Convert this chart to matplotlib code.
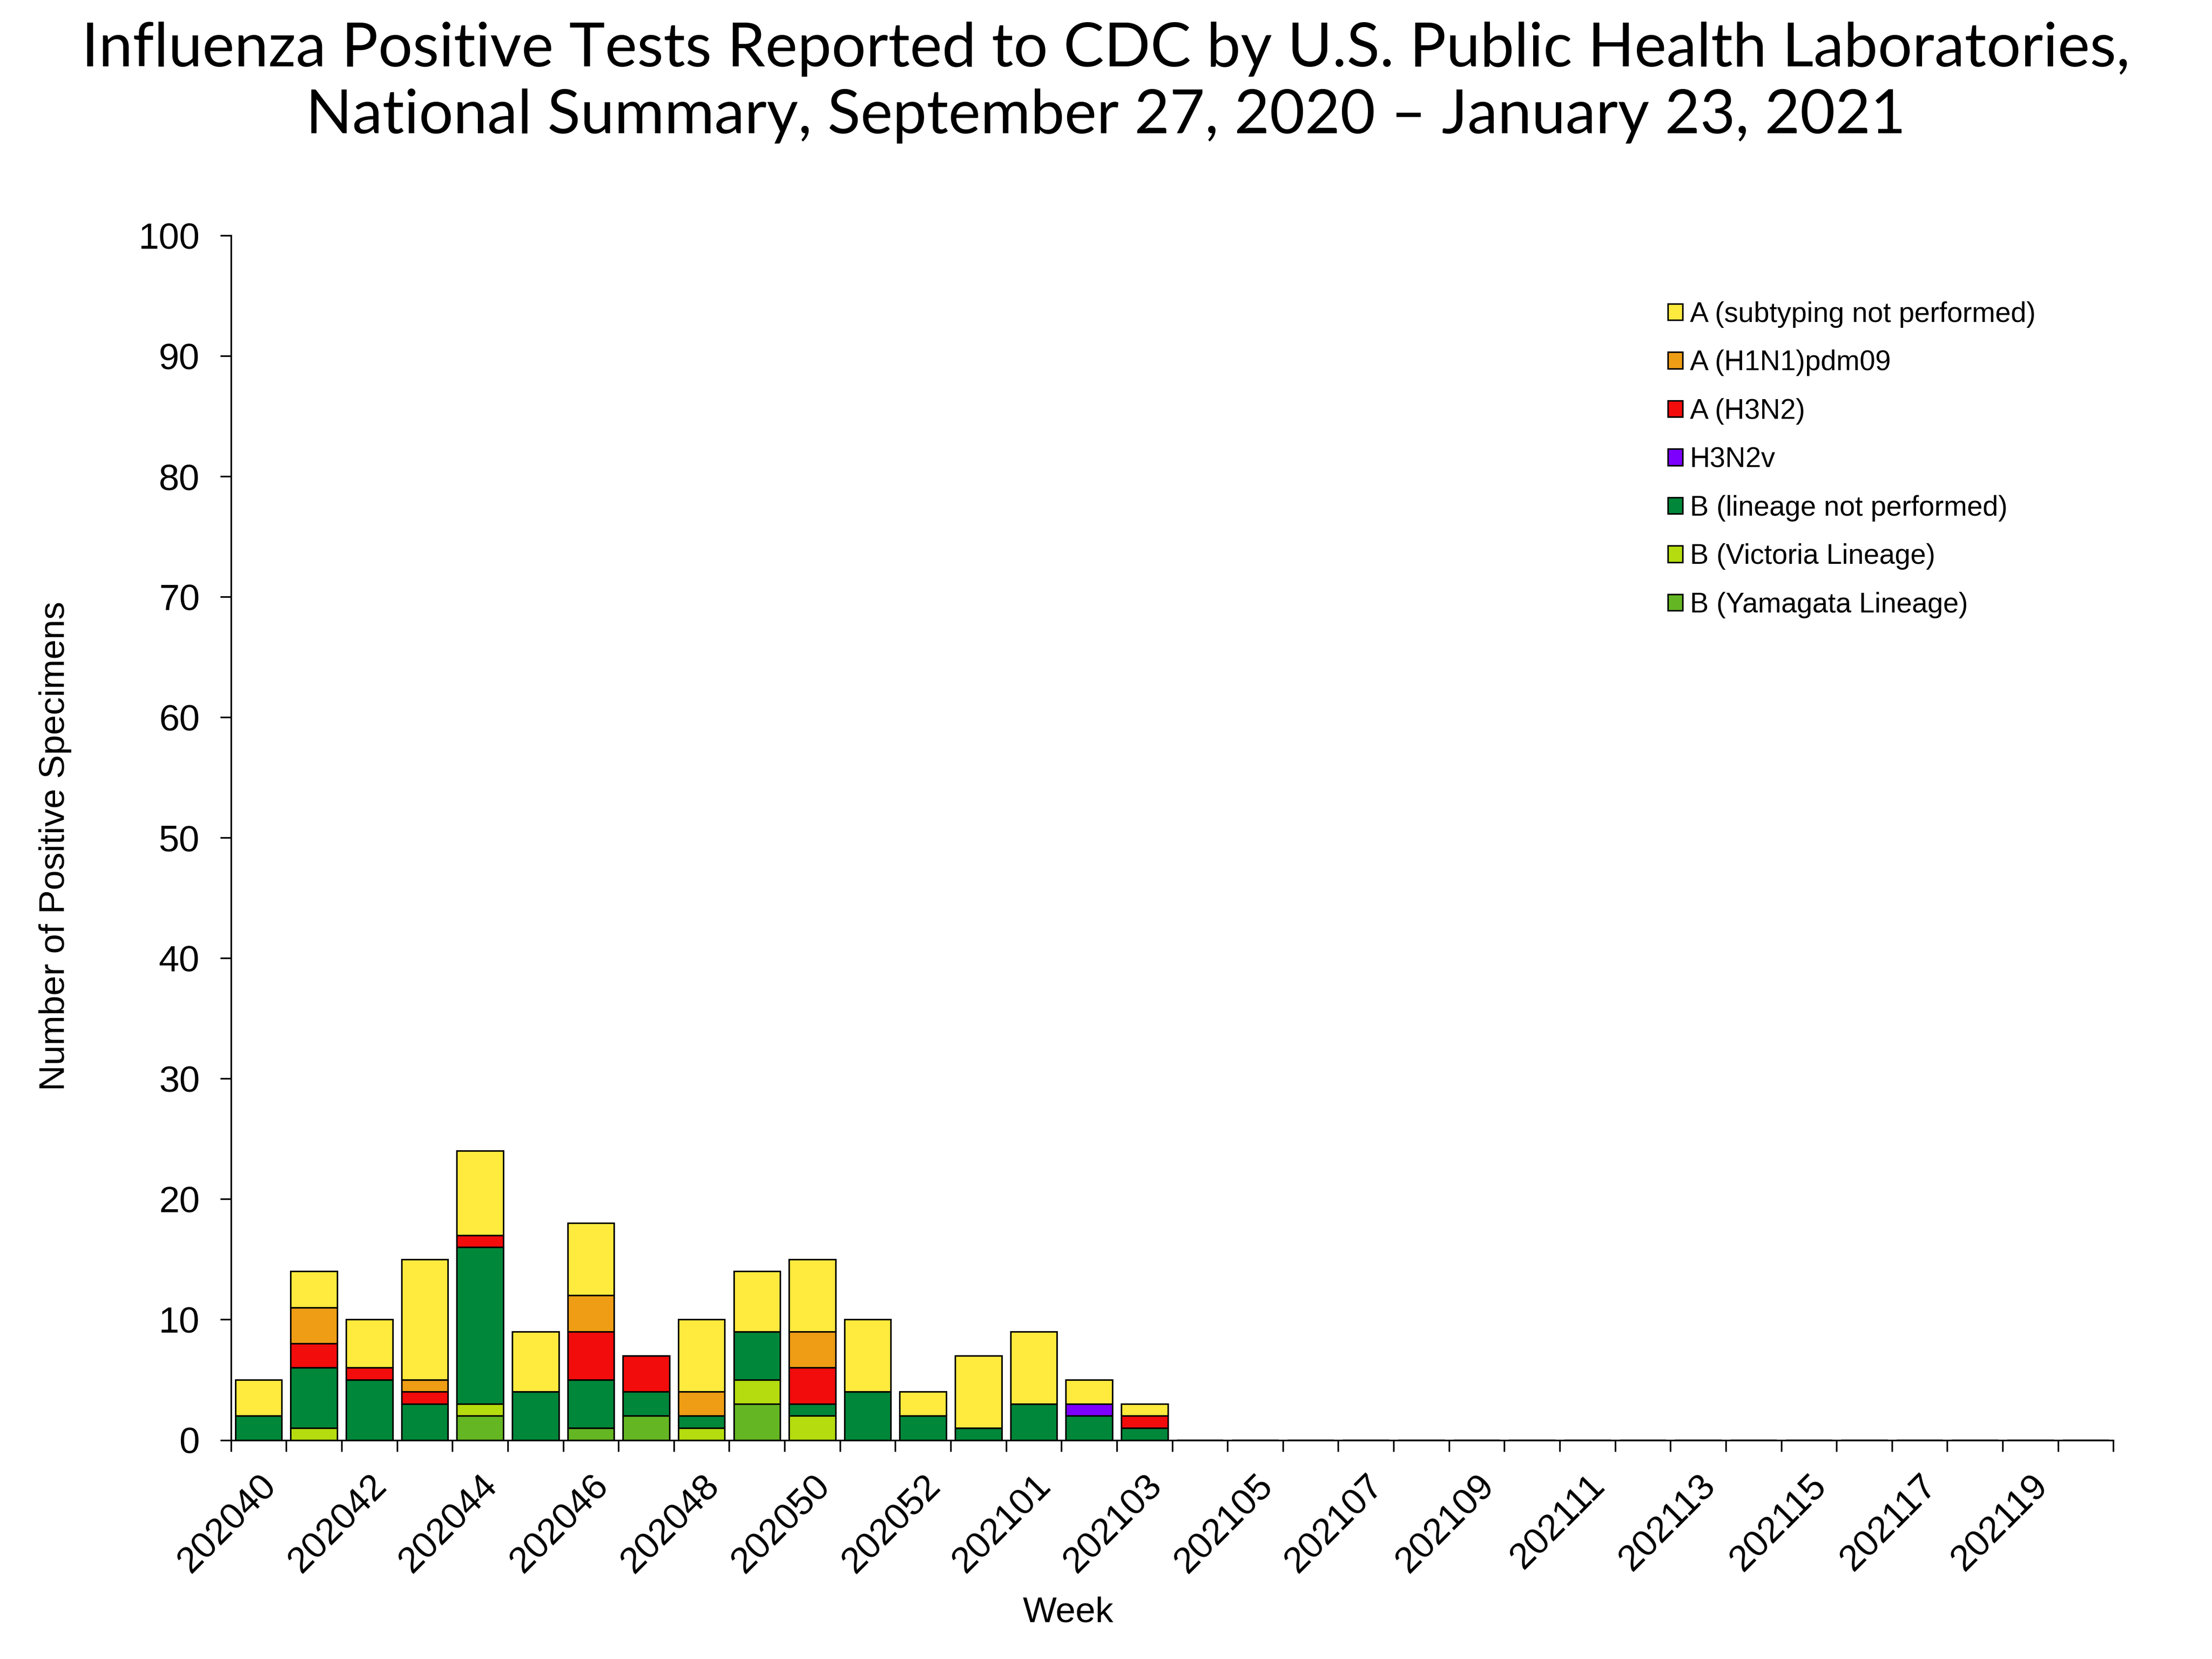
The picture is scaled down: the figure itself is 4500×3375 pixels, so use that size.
import numpy as np
import matplotlib
matplotlib.use('Agg')
import matplotlib.pyplot as plt
from matplotlib.patches import Patch

# weeks 202040..202053, 202101..202120
weeks = [f'2020{w}' for w in range(40, 54)] + [f'2021{w:02d}' for w in range(1, 21)]

pad = [0] * 17
yamagata = [0, 0, 0, 0, 2, 0, 1, 2, 0, 3, 0, 0, 0, 0, 0, 0, 0] + pad
victoria = [0, 1, 0, 0, 1, 0, 0, 0, 1, 2, 2, 0, 0, 0, 0, 0, 0] + pad
b_no_lineage = [2, 5, 5, 3, 13, 4, 4, 2, 1, 4, 1, 4, 2, 1, 3, 2, 1] + pad
h3n2v = [0, 0, 0, 0, 0, 0, 0, 0, 0, 0, 0, 0, 0, 0, 0, 1, 0] + pad
h3n2 = [0, 2, 1, 1, 1, 0, 4, 3, 0, 0, 3, 0, 0, 0, 0, 0, 1] + pad
h1n1 = [0, 3, 0, 1, 0, 0, 3, 0, 2, 0, 3, 0, 0, 0, 0, 0, 0] + pad
a_no_subtype = [3, 3, 4, 10, 7, 5, 6, 0, 6, 5, 6, 6, 2, 6, 6, 2, 1] + pad

series = [
    ('B (Yamagata Lineage)', yamagata, '#64B623'),
    ('B (Victoria Lineage)', victoria, '#B4DC0F'),
    ('B (lineage not performed)', b_no_lineage, '#00873A'),
    ('H3N2v', h3n2v, '#7D00FF'),
    ('A (H3N2)', h3n2, '#F20C0C'),
    ('A (H1N1)pdm09', h1n1, '#EE9D14'),
    ('A (subtyping not performed)', a_no_subtype, '#FFEA3E'),
]


def main():
    plt.rcParams['font.family'] = ['Liberation Sans', 'DejaVu Sans']
    fig = plt.figure(figsize=(15, 11.25), dpi=300)
    ax = fig.add_axes([0.1044, 0.132, 0.851, 0.726])

    x = np.arange(len(weeks))
    bottom = np.zeros(len(weeks))
    handles = []
    for label, vals, color in series:
        vals = np.array(vals, dtype=float)
        ax.bar(x, vals, width=0.84, bottom=bottom, color=color,
               edgecolor='black', linewidth=0.75)
        bottom += vals
        handles.append(Patch(facecolor=color, edgecolor='black', linewidth=0.75, label=label))

    ax.set_xlim(-0.5, len(weeks) - 0.5)
    ax.set_ylim(0, 100)
    ax.set_yticks(range(0, 101, 10))
    ax.tick_params(axis='y', labelsize=18, length=5.3, width=0.8, direction='out', pad=10)

    # labels on every other week, tick marks at category boundaries
    ax.set_xticks(x[::2])
    ax.set_xticklabels(weeks[::2], rotation=45, ha='right', rotation_mode='anchor')
    ax.tick_params(axis='x', which='major', length=0, labelsize=18, pad=14)
    ax.set_xticks(np.arange(-0.5, len(weeks)), minor=True)
    ax.tick_params(axis='x', which='minor', length=5.5, width=0.8, direction='out')

    for s in ['top', 'right']:
        ax.spines[s].set_visible(False)
    for s in ['left', 'bottom']:
        ax.spines[s].set_linewidth(0.8)

    fig.text(0.025, 0.49, 'Number of Positive Specimens', fontsize=17.5,
             rotation=90, ha='center', va='center')
    fig.text(0.483, 0.028, 'Week', fontsize=17.5, ha='center', va='center')

    fig.suptitle('Influenza Positive Tests Reported to CDC by U.S. Public Health Laboratories,\n'
                 'National Summary, September 27, 2020 \u2013 January 23, 2021',
                 fontsize=29.7, family=['Lato', 'DejaVu Sans'], y=0.987, va='top',
                 linespacing=1.26)

    fig.legend(handles=handles[::-1], loc='upper left', bbox_to_anchor=(0.754, 0.8185),
               frameon=False, fontsize=13.7, handlelength=0.53, handleheight=0.53,
               handletextpad=0.25, labelspacing=0.78, borderpad=0, borderaxespad=0)

    fig.savefig('out.png', dpi=300)


if __name__ == '__main__':
    main()
